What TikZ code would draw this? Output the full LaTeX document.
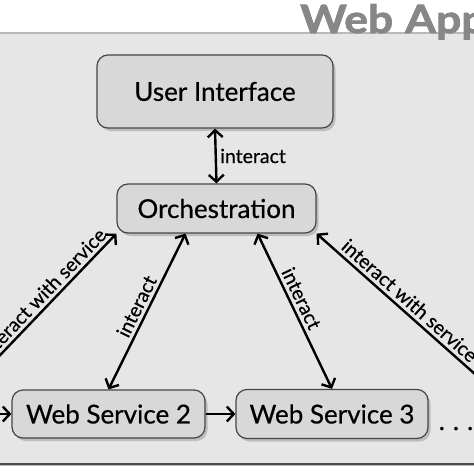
\documentclass[tikz,border=0pt]{standalone}
\usepackage{fontspec}
\setmainfont{Lato}
\newfontfamily\titlefont{Lato}[FakeBold = 2, FakeStretch = 1.14]
\newfontfamily\boxfont{Lato}[FakeBold = 0.5]
\usepackage[dvipsnames]{xcolor}
\definecolor{panel}{RGB}{230, 230, 230}
\definecolor{boxfill}{RGB}{216, 216, 216}
\definecolor{boxline}{RGB}{70, 70, 70}
\definecolor{titlegray}{RGB}{135, 135, 135}
\usetikzlibrary{arrows.meta, shadows}

\begin{document}
\begin{tikzpicture}[x = 1pt, y = -1pt, > = {Straight Barb[length = 7pt, width = 15pt]},
	box/.style = {draw = boxline, line width = 1.2pt, fill = boxfill, rounded corners = 11pt, inner sep = 0pt, font = \fontsize{26}{30}\boxfont, drop shadow = {shadow xshift = 2.5pt, shadow yshift = -3pt, opacity = 0.4}},
	link/.style = {line width = 2.4pt},
	lbl/.style = {font = \fontsize{19.5}{21}\boxfont}]
	\useasboundingbox (0, 0) rectangle (474, 474);
	\clip (0, 0) rectangle (474, 474);
	\draw[fill = panel, draw = gray!55, line width = 1.5pt] (-20, 33) rectangle (494, 465);
	\draw[line width = 2.5pt, gray!60!black] (-20, 464) -- (494, 464);
	\node[anchor = base west, text = titlegray, inner sep = 0pt, font = \fontsize{39}{40}\titlefont\bfseries] (title) at (300, 33) {Web\hspace{12pt}App};
	\node[box, minimum width = 236pt, minimum height = 73pt] (ui) at (215, 91.5) {User Interface};
	\node[box, minimum width = 199pt, minimum height = 49pt] (orch) at (216.5, 208.5) {Orchestration};
	\node[box, minimum width = 193pt, minimum height = 48pt] (ws2) at (108.5, 414) {Web Service 2};
	\node[box, minimum width = 192pt, minimum height = 49pt] (ws3) at (332, 414) {Web Service 3};
	\node[anchor = base, font = \fontsize{26}{30}\boxfont] (more) at (456, 430) {.\hspace{8pt}.\hspace{8pt}.};
	\coordinate (in2) at (-30, 414);
	\coordinate (lsvc) at (-40, 397);
	\coordinate (rsvc) at (520, 414);
	\draw[link, <->] (ui.south) -- (orch.north) node[midway, right, lbl]{interact};
	\draw[link, <->] (ws2.north) -- ([xshift = -31pt]orch.south) node[midway, sloped, above, lbl]{interact};
	\draw[link, <->] ([xshift = 41pt]orch.south) -- (ws3.north) node[pos = 0.45, sloped, above, lbl]{interact};
	\draw[link, <->] (lsvc) -- (orch.south west) node[pos = 0.58, sloped, above, lbl]{interact with service};
	\draw[link, <->] (rsvc) -- (orch.south east) node[pos = 0.58, sloped, above, lbl]{interact with service};
	\draw[link, ->] (in2) -- (ws2);
	\draw[link, ->] (ws2) -- (ws3);
\end{tikzpicture}
\end{document}
